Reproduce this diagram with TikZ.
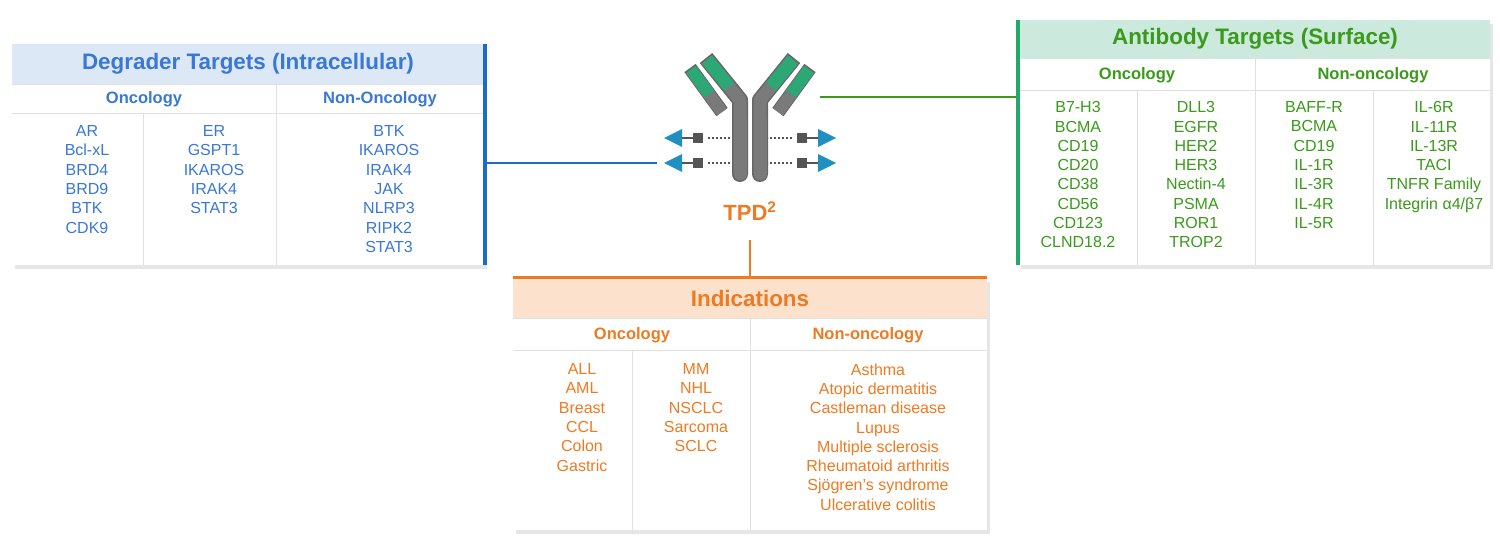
\documentclass[tikz,border=0pt]{standalone}
\usepackage{fontspec}
\setmainfont{Liberation Sans}
\usetikzlibrary{shadows}
\definecolor{bl}{HTML}{3A78D6}\definecolor{blbar}{HTML}{1A6CC8}\definecolor{blbg}{HTML}{DCE8F5}
\definecolor{gr}{HTML}{3A9A1A}\definecolor{grbar}{HTML}{22A86B}\definecolor{grbg}{HTML}{CBE9DD}
\definecolor{or}{HTML}{EE7A22}\definecolor{orbg}{HTML}{FCE1CD}
\definecolor{ab}{HTML}{2BA876}\definecolor{gy}{HTML}{7A7A7A}\definecolor{tri}{HTML}{2090C0}\definecolor{sq}{HTML}{555555}
\begin{document}
\begin{tikzpicture}[x=1pt,y=-1pt,
 box/.style={fill=white,drop shadow={opacity=0.2,shadow xshift=3pt,shadow yshift=-4pt}},
 sep/.style={draw=black!12,line width=1pt},
 item/.style={anchor=north,align=center,font=\fontsize{16}{19.3}\selectfont},
 hd/.style={font=\bfseries\fontsize{22.4}{24}\selectfont},
 sub/.style={font=\bfseries\fontsize{16.5}{18}\selectfont}]
\useasboundingbox (0,0) rectangle (1500,546);
% blue table
\fill[box] (12,44) rectangle (484,265);
\fill[blbg] (12,44) rectangle (484,84);
\draw[sep] (12,84)--(484,84) (12,113)--(484,113) (276,84)--(276,265) (143,113)--(143,265);
\draw[blbar,line width=4pt] (485,44)--(485,265);
\node[hd,text=bl] (bh) at (248,64) {Degrader Targets (Intracellular)};
\node[sub,text=bl] (bo) at (144,99) {Oncology};
\node[sub,text=bl] (bn) at (380,99) {Non-Oncology};
\node[item,text=bl] (b1) at (87,122) {AR\\Bcl-xL\\BRD4\\BRD9\\BTK\\CDK9};
\node[item,text=bl] (b2) at (214,122) {ER\\GSPT1\\IKAROS\\IRAK4\\STAT3};
\node[item,text=bl] (b3) at (389,122) {BTK\\IKAROS\\IRAK4\\JAK\\NLRP3\\RIPK2\\STAT3};
\coordinate (bR) at (487,163); \coordinate (bL) at (657,163);
\draw[blbar,line width=2.5pt] (bR)--(bL);
% green table
\fill[box] (1018,20) rectangle (1490,265);
\fill[grbg] (1018,20) rectangle (1490,58);
\draw[sep] (1018,58)--(1490,58) (1018,90)--(1490,90) (1255,58)--(1255,265) (1137,90)--(1137,265) (1373,90)--(1373,265);
\draw[grbar,line width=4pt] (1018,20)--(1018,265);
\node[hd,text=gr] (gh) at (1255,39) {Antibody Targets (Surface)};
\node[sub,text=gr] (go) at (1137,75) {Oncology};
\node[sub,text=gr] (gn) at (1373,75) {Non-oncology};
\node[item,text=gr] (g1) at (1078,98) {B7-H3\\BCMA\\CD19\\CD20\\CD38\\CD56\\CD123\\CLND18.2};
\node[item,text=gr] (g2) at (1196,98) {DLL3\\EGFR\\HER2\\HER3\\Nectin-4\\PSMA\\ROR1\\TROP2};
\node[item,text=gr] (g3) at (1314,98) {BAFF-R\\BCMA\\CD19\\IL-1R\\IL-3R\\IL-4R\\IL-5R};
\node[item,text=gr] (g4) at (1434,98) {IL-6R\\IL-11R\\IL-13R\\TACI\\TNFR Family\\Integrin α4/β7};
\coordinate (gL) at (820,97); \coordinate (gR) at (1016,97);
\draw[gr,line width=2.5pt] (gL)--(gR);
% orange table
\fill[box] (513,278) rectangle (987,530);
\fill[orbg] (513,278) rectangle (987,318);
\draw[sep] (513,318)--(987,318) (513,350)--(987,350) (750,318)--(750,530) (632,350)--(632,530);
\draw[or,line width=3.5pt] (513,277.5)--(987,277.5);
\node[hd,text=or] (oh) at (750,298) {Indications};
\node[sub,text=or] (oo) at (632,335) {Oncology};
\node[sub,text=or] (on) at (868,335) {Non-oncology};
\node[item,text=or] (o1) at (582,360) {ALL\\AML\\Breast\\CCL\\Colon\\Gastric};
\node[item,text=or] (o2) at (696,360) {MM\\NHL\\NSCLC\\Sarcoma\\SCLC};
\node[item,text=or] (o3) at (878,360) {Asthma\\Atopic dermatitis\\Castleman disease\\Lupus\\Multiple sclerosis\\Rheumatoid arthritis\\Sjögren's syndrome\\Ulcerative colitis};
\node[text=or,font=\bfseries\fontsize{22}{24}\selectfont] (tpd) at (750,211) {TPD\textsuperscript{2}};
\coordinate (oB) at (750,240); \coordinate (oT) at (750,276);
\draw[or,line width=2.5pt] (oB)--(oT);
% antibody
\foreach \s in {1,-1}{
 \begin{scope}[xshift=750pt,xscale=\s]
  % outer light chain
  \draw[black!60,line width=14pt] (-60,68)--(-28,112);
  \draw[gy,line width=12pt] (-59,69.5)--(-28,112);
  \draw[ab,line width=12pt] (-59,69.5)--(-41,94);
  % heavy chain
  \draw[black!60,line width=16pt,line join=round] (-44,58)--(-10,100)--(-10,174);
  \draw[black!60,line width=16pt,line cap=round] (-10,120)--(-10,174);
  \draw[gy,line width=13pt,line join=round] (-43,59.5)--(-10,100)--(-10,174);
  \draw[gy,line width=13pt,line cap=round] (-10,120)--(-10,174);
  \draw[ab,line width=13pt] (-43,59.5)--(-21,86.5);
  \foreach \yy in {138,163}{
   \draw[dotted,sq,line width=2pt] (-42,\yy)--(-18,\yy);
   \draw[sq,line width=1.5pt] (-52,\yy)--(-74,\yy);
   \fill[sq] (-57,\yy-5) rectangle (-47,\yy+5);
   \fill[tri] (-86,\yy)--(-68,\yy-9)--(-68,\yy+9)--cycle;
  }
 \end{scope}}
\end{tikzpicture}
\end{document}
